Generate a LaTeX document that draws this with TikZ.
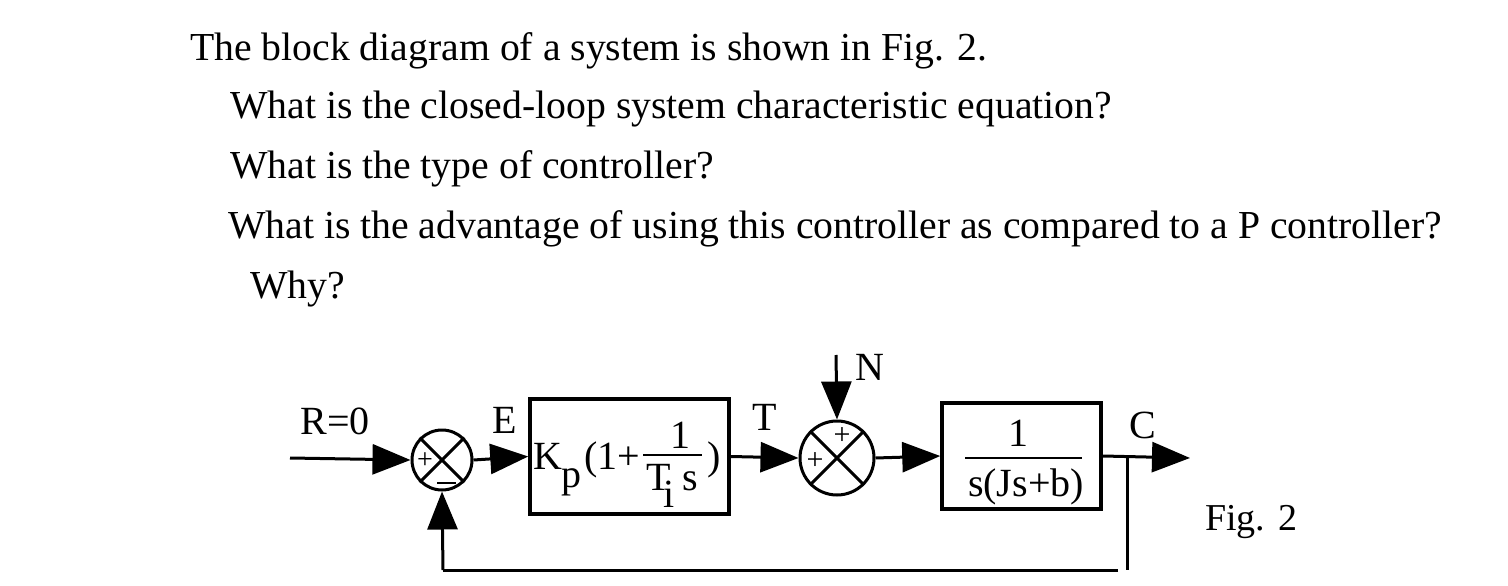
\documentclass[tikz,border=0pt]{standalone}
\usepackage{fontspec}
\setmainfont{Liberation Serif}
\usetikzlibrary{arrows.meta}
\begin{document}
\begin{tikzpicture}[x=1pt,y=-1pt,
  txt/.style={anchor=base west,inner sep=0pt,font=\fontsize{39.7}{44}\selectfont},
  lbl/.style={inner sep=0pt,font=\fontsize{40}{44}\selectfont},
  bl/.style={inner sep=0pt,anchor=base west,font=\fontsize{40}{44}\selectfont},
  bc/.style={inner sep=0pt,anchor=base,font=\fontsize{40}{44}\selectfont},
  blk/.style={draw,line width=3.5pt,inner sep=0pt},
  sumj/.style={draw,circle,line width=3pt,inner sep=0pt},
  sig/.style={line width=3pt,-{Triangle[length=38pt,width=30pt]}},
  ln/.style={line width=3pt}]
\useasboundingbox (0,0) rectangle (1508,586);
\node[txt] (t1) at (190,60) {The block diagram of a system is shown in Fig. 2.};
\node[txt] (t2) at (230,118) {What is the closed-loop system characteristic equation?};
\node[txt] (t3) at (230,178) {What is the type of controller?};
\node[txt] (t4) at (228,238) {What is the advantage of using this controller as compared to a P controller?};
\node[txt] (t5) at (250,298) {Why?};
% nodes
\coordinate (in) at (290,458);
\node[sumj,minimum size=60pt] (s1) at (442,460) {};
\draw[line width=3pt] (s1.north west)--(s1.south east) (s1.north east)--(s1.south west);
\node[lbl,font=\fontsize{28}{28}\selectfont] at (425,461) {+};
\draw[line width=2.5pt] (437,483)--(456,483);
\node[blk,minimum width=199pt,minimum height=115pt] (b1) at (629.5,456.5) {};
\node[bl] (kK) at (533,469) {K};
\node[bl] (kp) at (561,487) {p};
\node[bl] (k1) at (584,469) {(1+};
\draw[line width=2.5pt] (643,455) -- (702,455);
\node[bc] (kn) at (680,448) {1};
\node[bl] (kT) at (646,490) {T};
\node[bl] (ki) at (663,507) {i};
\node[bl] (ks) at (682,490) {s};
\node[bl] (kr) at (707,469) {)};
\node[sumj,minimum size=74pt] (s2) at (837,458) {};
\draw[line width=3pt] (s2.north west)--(s2.south east) (s2.north east)--(s2.south west);
\node[lbl,font=\fontsize{30}{30}\selectfont] at (842,436) {+};
\node[lbl,font=\fontsize{30}{30}\selectfont] at (815,461) {+};
\node[blk,minimum width=159pt,minimum height=106pt] (b2) at (1021.5,456) {};
\draw[line width=2.5pt] (965,458) -- (1082,458);
\node[bc] (gn) at (1018,446) {1};
\node[bc] (gd) at (1026,496) {s(Js+b)};
\coordinate (nin) at (836,355);
\coordinate (out) at (1190,458);
\coordinate (br) at (1127,458);
\coordinate (bot) at (1127,570);
\coordinate (botl) at (443,570);
% connectors
\draw[sig] (in) -- (s1.west);
\draw[sig] (s1.east) -- (b1.west);
\draw[sig] (b1.east) -- (s2.west);
\draw[sig] (nin) -- (s2.north);
\draw[sig] (s2.east) -- (b2.west);
\draw[sig] (b2.east) -- (out);
\draw[ln] (br) -- (bot);
\draw[ln] (1118,570) -- (botl);
\draw[sig] (botl) -- (s1.south);
% labels
\node[lbl] (R) at (335,421) {R=0};
\node[lbl] (E) at (505,420) {E};
\node[lbl] (T) at (765,417) {T};
\node[lbl] (N) at (870,367) {N};
\node[lbl] (C) at (1143,425) {C};
\node[bl,font=\fontsize{38}{40}\selectfont] (F) at (1205,530) {Fig. 2};
\end{tikzpicture}
\end{document}
